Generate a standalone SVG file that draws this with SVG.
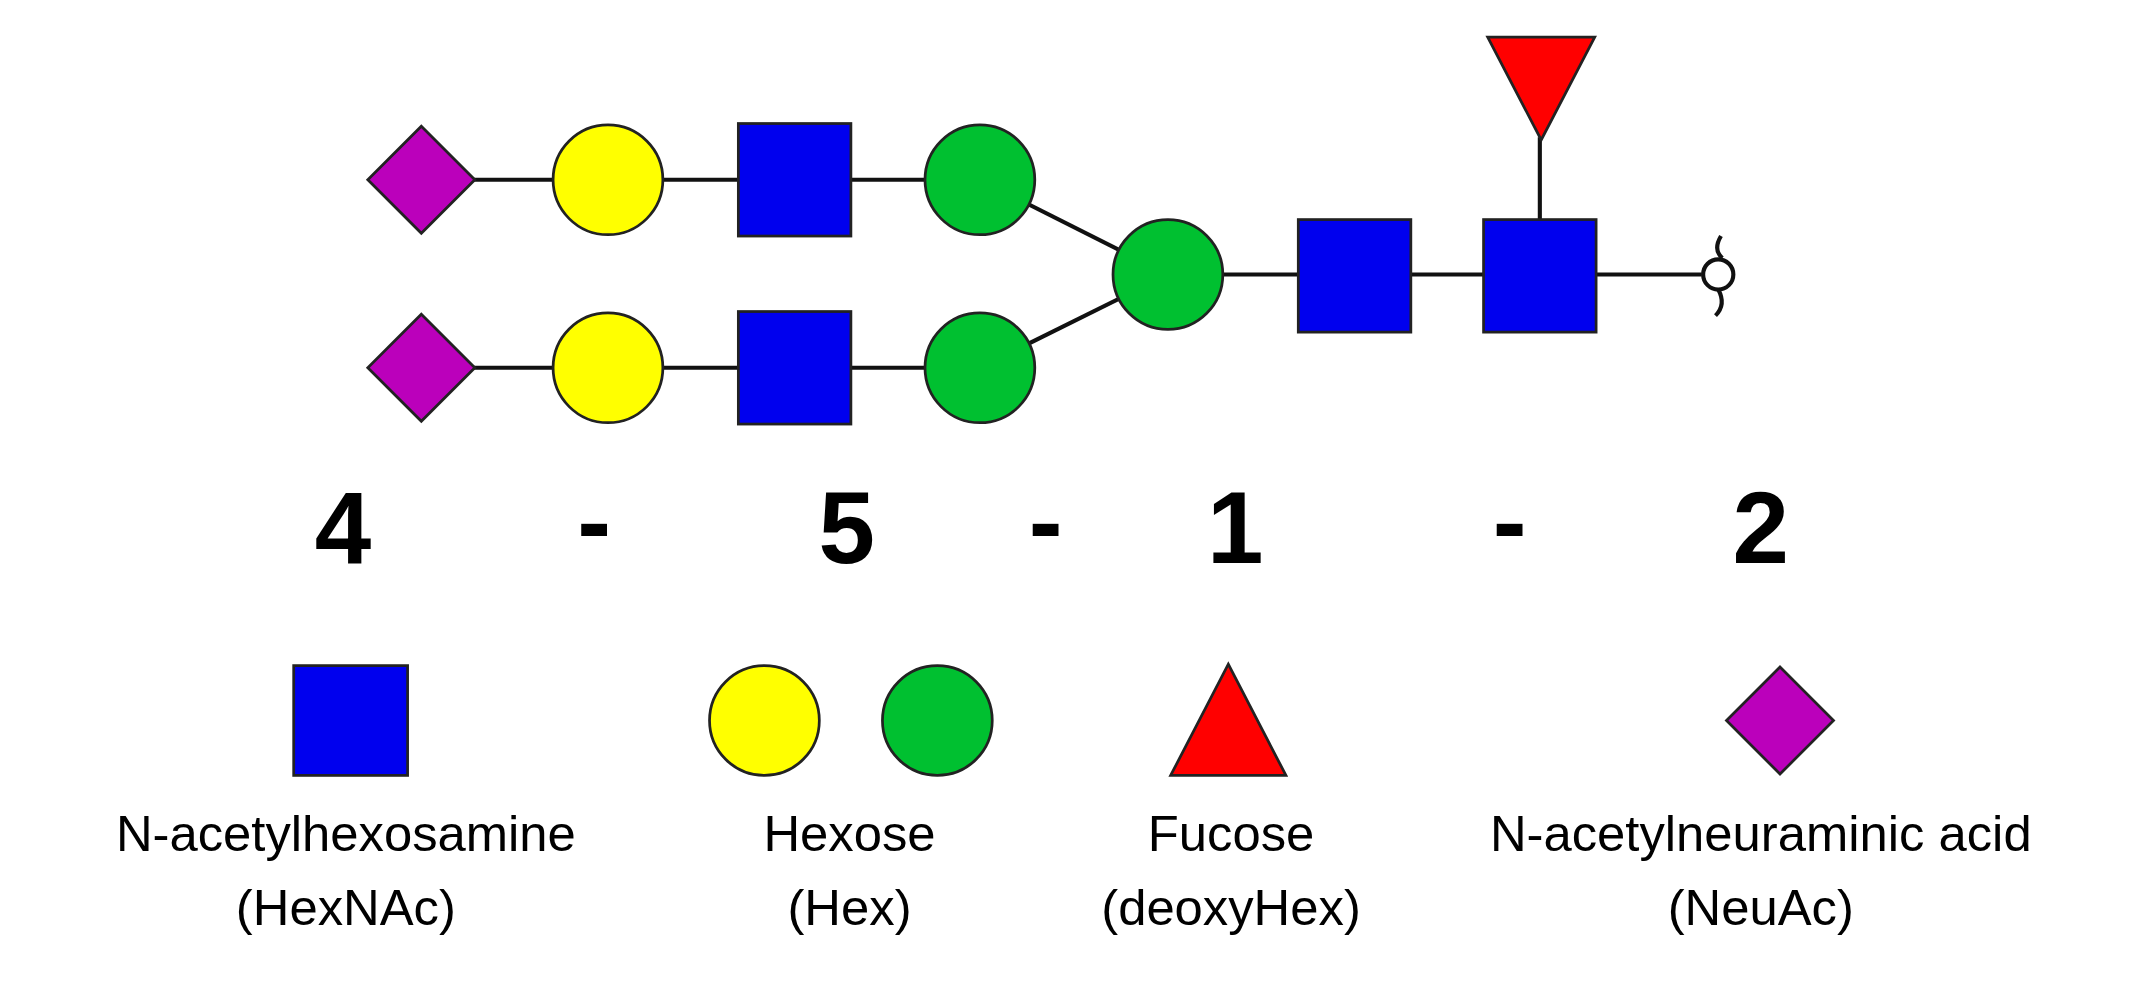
<svg xmlns="http://www.w3.org/2000/svg" width="2152" height="990" viewBox="0 0 2152 990">
<style>
.s{stroke:#222;stroke-width:2}
.sq{fill:#0000ee}.y{fill:#ffff00}.g{fill:#00c030}.r{fill:#ff0000}.p{fill:#bb00bb}
.ln{stroke:#111;stroke-width:3;fill:none}
.num{font-family:"Liberation Sans",Arial,sans-serif;font-weight:bold;font-size:74px;text-anchor:middle}
.lb{font-family:"Liberation Sans",Arial,sans-serif;font-size:37px;text-anchor:middle}
</style>
<rect width="2152" height="990" fill="#fff"/>
<g transform="scale(1.3724)">
<g id="connectors" class="ln">
<line x1="307" y1="131" x2="714" y2="131"/>
<line x1="307" y1="268" x2="714" y2="268"/>
<line x1="714" y1="131" x2="851" y2="200"/>
<line x1="714" y1="268" x2="851" y2="200"/>
<line x1="851" y1="200" x2="1240" y2="200"/>
<line x1="1122" y1="100" x2="1122" y2="160"/>
</g>
<g id="neuac1"><polygon class="p s" points="307,92 346,131 307,170 268,131"/></g>
<g id="neuac2"><polygon class="p s" points="307,229 346,268 307,307 268,268"/></g>
<g id="hex1"><circle class="y s" cx="443" cy="131" r="40"/></g>
<g id="hex2"><circle class="y s" cx="443" cy="268" r="40"/></g>
<g id="hexnac1"><rect class="sq s" x="538" y="90" width="82" height="82"/></g>
<g id="hexnac2"><rect class="sq s" x="538" y="227" width="82" height="82"/></g>
<g id="hex3"><circle class="g s" cx="714" cy="131" r="40"/></g>
<g id="hex4"><circle class="g s" cx="714" cy="268" r="40"/></g>
<g id="hex5"><circle class="g s" cx="851" cy="200" r="40"/></g>
<g id="hexnac3"><rect class="sq s" x="946" y="160" width="82" height="82"/></g>
<g id="hexnac4"><rect class="sq s" x="1081" y="160" width="82" height="82"/></g>
<g id="fuc"><polygon class="r s" points="1084,27 1162,27 1123,102"/></g>
<g id="reducing" class="ln" stroke-width="2.5">
<circle cx="1252" cy="200" r="11"/>
<path d="M1255,188 Q1248,182 1254,172"/>
<path d="M1252,211 Q1258,222 1250,230"/>
</g>
<g id="numbers">
<text class="num" x="250" y="410">4</text>
<text class="num" x="433" y="405">-</text>
<text class="num" x="617" y="410">5</text>
<text class="num" x="762" y="405">-</text>
<text class="num" x="900" y="410">1</text>
<text class="num" x="1100" y="405">-</text>
<text class="num" x="1283" y="410">2</text>
</g>
<g id="legend-hexnac"><rect class="sq s" x="214" y="485" width="83" height="80"/>
<text class="lb" x="252" y="620">N-acetylhexosamine</text><text class="lb" x="252" y="674">(HexNAc)</text></g>
<g id="legend-hex"><circle class="y s" cx="557" cy="525" r="40"/><circle class="g s" cx="683" cy="525" r="40"/>
<text class="lb" x="619" y="620">Hexose</text><text class="lb" x="619" y="674">(Hex)</text></g>
<g id="legend-fuc"><polygon class="r s" points="895,484 937,565 853,565"/>
<text class="lb" x="897" y="620">Fucose</text><text class="lb" x="897" y="674">(deoxyHex)</text></g>
<g id="legend-neuac"><polygon class="p s" points="1297,486 1336,525 1297,564 1258,525"/>
<text class="lb" x="1283" y="620">N-acetylneuraminic acid</text><text class="lb" x="1283" y="674">(NeuAc)</text></g>
</g>
</svg>
